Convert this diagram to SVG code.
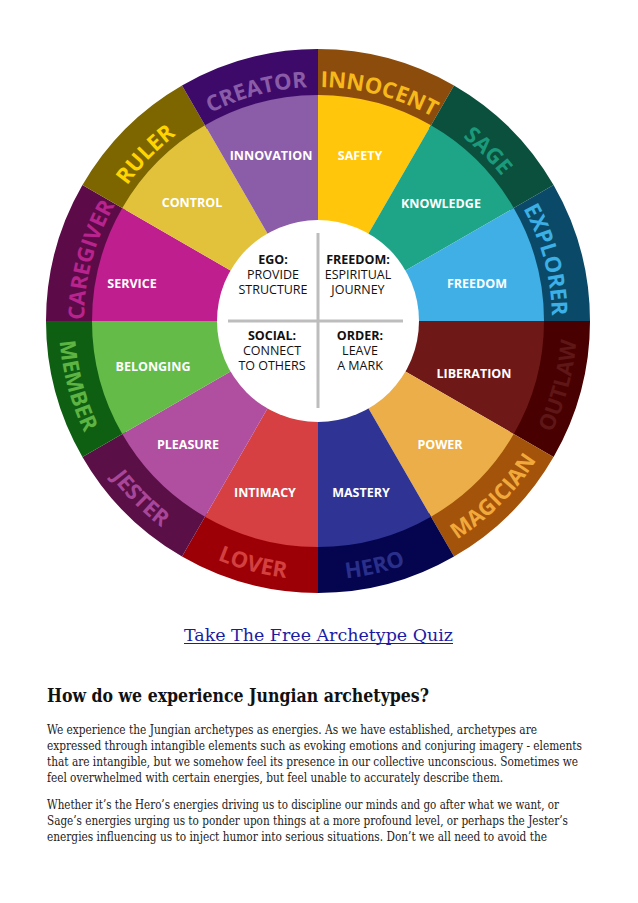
<svg xmlns="http://www.w3.org/2000/svg" xmlns:xlink="http://www.w3.org/1999/xlink" width="638" height="903" viewBox="0 0 638 903">
<style>
.rl{font-family:"Open Sans","DejaVu Sans",sans-serif;font-weight:700;font-size:22px}
.il{font-family:"Open Sans","DejaVu Sans",sans-serif;font-weight:700;font-size:12.5px;fill:#fff;text-anchor:middle}
.cb{font-family:"Open Sans","DejaVu Sans",sans-serif;font-weight:700;font-size:12.5px;fill:#111;text-anchor:middle}
.cr{font-family:"Open Sans","DejaVu Sans",sans-serif;font-weight:400;font-size:12.5px;fill:#111;text-anchor:middle}
.body{font-family:"DejaVu Serif Condensed","DejaVu Serif",serif;font-size:12px;fill:#222}
</style>
<defs>
<path id="ringSeg" d="M318 49A272 272 0 0 1 454 85.44L429 128.74A222 222 0 0 0 318 99Z"/>
<path id="innerSeg" d="M318 95A226 226 0 0 1 431 125.28L365.5 238.73A95 95 0 0 0 318 226Z"/>
<path id="topArc" d="M152.54 155.54A234 234 0 0 1 483.46 155.54"/>
<path id="bottomArc" d="M134.86 504.14A259 259 0 0 0 501.14 504.14"/>
</defs>
<rect width="638" height="903" fill="#fff"/>
<g id="wheel">
<g id="innocent">
<use xlink:href="#ringSeg" fill="#8c4d0c"/>
<use xlink:href="#innerSeg" fill="#ffc60b"/>
<text class="rl" fill="#f7b919" transform="rotate(15 318 321)"><textPath xlink:href="#topArc" startOffset="50%" text-anchor="middle">INNOCENT</textPath></text>
<text class="il" x="360" y="159.5">SAFETY</text>
</g>
<g id="sage">
<use xlink:href="#ringSeg" fill="#0b4f3d" transform="rotate(30 318 321)"/>
<use xlink:href="#innerSeg" fill="#1ea486" transform="rotate(30 318 321)"/>
<text class="rl" fill="#1a9a7a" transform="rotate(45 318 321)"><textPath xlink:href="#topArc" startOffset="50%" text-anchor="middle">SAGE</textPath></text>
<text class="il" x="441" y="207.5">KNOWLEDGE</text>
</g>
<g id="explorer">
<use xlink:href="#ringSeg" fill="#0a4a68" transform="rotate(60 318 321)"/>
<use xlink:href="#innerSeg" fill="#40afe5" transform="rotate(60 318 321)"/>
<text class="rl" fill="#3cb0e6" transform="rotate(75 318 321)"><textPath xlink:href="#topArc" startOffset="50%" text-anchor="middle">EXPLORER</textPath></text>
<text class="il" x="477" y="287.5">FREEDOM</text>
</g>
<g id="outlaw">
<use xlink:href="#ringSeg" fill="#480000" transform="rotate(90 318 321)"/>
<use xlink:href="#innerSeg" fill="#6f1818" transform="rotate(90 318 321)"/>
<text class="rl" fill="#5e1616" transform="rotate(-75 318 321)"><textPath xlink:href="#bottomArc" startOffset="50%" text-anchor="middle">OUTLAW</textPath></text>
<text class="il" x="474" y="377.5">LIBERATION</text>
</g>
<g id="magician">
<use xlink:href="#ringSeg" fill="#a3530a" transform="rotate(120 318 321)"/>
<use xlink:href="#innerSeg" fill="#ecae48" transform="rotate(120 318 321)"/>
<text class="rl" fill="#f2a93b" transform="rotate(-45 318 321)"><textPath xlink:href="#bottomArc" startOffset="50%" text-anchor="middle">MAGICIAN</textPath></text>
<text class="il" x="440" y="448.5">POWER</text>
</g>
<g id="hero">
<use xlink:href="#ringSeg" fill="#04044f" transform="rotate(150 318 321)"/>
<use xlink:href="#innerSeg" fill="#2f3393" transform="rotate(150 318 321)"/>
<text class="rl" fill="#2a2f8a" transform="rotate(-13 318 321)"><textPath xlink:href="#bottomArc" startOffset="50%" text-anchor="middle">HERO</textPath></text>
<text class="il" x="361" y="496.5">MASTERY</text>
</g>
<g id="lover">
<use xlink:href="#ringSeg" fill="#9c0006" transform="rotate(180 318 321)"/>
<use xlink:href="#innerSeg" fill="#d64042" transform="rotate(180 318 321)"/>
<text class="rl" fill="#d4403f" transform="rotate(15 318 321)"><textPath xlink:href="#bottomArc" startOffset="50%" text-anchor="middle">LOVER</textPath></text>
<text class="il" x="265" y="496.5">INTIMACY</text>
</g>
<g id="jester">
<use xlink:href="#ringSeg" fill="#5a0f46" transform="rotate(210 318 321)"/>
<use xlink:href="#innerSeg" fill="#b04ea0" transform="rotate(210 318 321)"/>
<text class="rl" fill="#a8479a" transform="rotate(45 318 321)"><textPath xlink:href="#bottomArc" startOffset="50%" text-anchor="middle">JESTER</textPath></text>
<text class="il" x="188" y="448.5">PLEASURE</text>
</g>
<g id="member">
<use xlink:href="#ringSeg" fill="#0f5f12" transform="rotate(240 318 321)"/>
<use xlink:href="#innerSeg" fill="#65bb48" transform="rotate(240 318 321)"/>
<text class="rl" fill="#5db443" transform="rotate(75 318 321)"><textPath xlink:href="#bottomArc" startOffset="50%" text-anchor="middle">MEMBER</textPath></text>
<text class="il" x="153" y="370.5">BELONGING</text>
</g>
<g id="caregiver">
<use xlink:href="#ringSeg" fill="#5c0b48" transform="rotate(270 318 321)"/>
<use xlink:href="#innerSeg" fill="#be1e8e" transform="rotate(270 318 321)"/>
<text class="rl" fill="#b8238d" transform="rotate(-75 318 321)"><textPath xlink:href="#topArc" startOffset="50%" text-anchor="middle">CAREGIVER</textPath></text>
<text class="il" x="132" y="287.5">SERVICE</text>
</g>
<g id="ruler">
<use xlink:href="#ringSeg" fill="#7d6600" transform="rotate(300 318 321)"/>
<use xlink:href="#innerSeg" fill="#e2c23a" transform="rotate(300 318 321)"/>
<text class="rl" fill="#ffd400" transform="rotate(-46 318 321)"><textPath xlink:href="#topArc" startOffset="50%" text-anchor="middle">RULER</textPath></text>
<text class="il" x="192" y="206.5">CONTROL</text>
</g>
<g id="creator">
<use xlink:href="#ringSeg" fill="#3e0a6a" transform="rotate(330 318 321)"/>
<use xlink:href="#innerSeg" fill="#8b5ca8" transform="rotate(330 318 321)"/>
<text class="rl" fill="#8a5ca8" transform="rotate(-15 318 321)"><textPath xlink:href="#topArc" startOffset="50%" text-anchor="middle">CREATOR</textPath></text>
<text class="il" x="271" y="159.5">INNOVATION</text>
</g>
<g id="center">
<circle cx="318" cy="321" r="101" fill="#fff"/>
<line x1="318" y1="233" x2="318" y2="408" stroke="#bdbdbd" stroke-width="3"/>
<line x1="228" y1="321" x2="403" y2="321" stroke="#bdbdbd" stroke-width="3"/>
<text class="cb" x="273" y="263.5">EGO:</text>
<text class="cr" x="273" y="278.5">PROVIDE</text>
<text class="cr" x="273" y="293.5">STRUCTURE</text>
<text class="cb" x="358" y="263.5">FREEDOM:</text>
<text class="cr" x="358" y="278.5">ESPIRITUAL</text>
<text class="cr" x="358" y="293.5">JOURNEY</text>
<text class="cb" x="272" y="339.5">SOCIAL:</text>
<text class="cr" x="272" y="354.5">CONNECT</text>
<text class="cr" x="272" y="369.5">TO OTHERS</text>
<text class="cb" x="360" y="339.5">ORDER:</text>
<text class="cr" x="360" y="354.5">LEAVE</text>
<text class="cr" x="360" y="369.5">A MARK</text>
</g>
</g>
<g id="article">
<text x="184" y="641" font-family="DejaVu Serif,serif" font-size="17" fill="#1c1ca3" textLength="269" lengthAdjust="spacingAndGlyphs">Take The Free Archetype Quiz</text>
<line x1="184" y1="643.5" x2="453" y2="643.5" stroke="#1c1ca3" stroke-width="1"/>
<text x="47" y="702" font-family="DejaVu Serif,serif" font-weight="700" font-size="18" fill="#111" textLength="382" lengthAdjust="spacingAndGlyphs">How do we experience Jungian archetypes?</text>
<text class="body" x="47" y="733.5" textLength="490" lengthAdjust="spacingAndGlyphs">We experience the Jungian archetypes as energies. As we have established, archetypes are</text>
<text class="body" x="47" y="749.5" textLength="535" lengthAdjust="spacingAndGlyphs">expressed through intangible elements such as evoking emotions and conjuring imagery - elements</text>
<text class="body" x="47" y="765.5" textLength="531" lengthAdjust="spacingAndGlyphs">that are intangible, but we somehow feel its presence in our collective unconscious. Sometimes we</text>
<text class="body" x="47" y="781.5" textLength="456" lengthAdjust="spacingAndGlyphs">feel overwhelmed with certain energies, but feel unable to accurately describe them.</text>
<text class="body" x="47" y="809" textLength="512" lengthAdjust="spacingAndGlyphs">Whether it’s the Hero’s energies driving us to discipline our minds and go after what we want, or</text>
<text class="body" x="47" y="825" textLength="521" lengthAdjust="spacingAndGlyphs">Sage’s energies urging us to ponder upon things at a more profound level, or perhaps the Jester’s</text>
<text class="body" x="47" y="841" textLength="500" lengthAdjust="spacingAndGlyphs">energies influencing us to inject humor into serious situations. Don’t we all need to avoid the</text>
</g>
</svg>
